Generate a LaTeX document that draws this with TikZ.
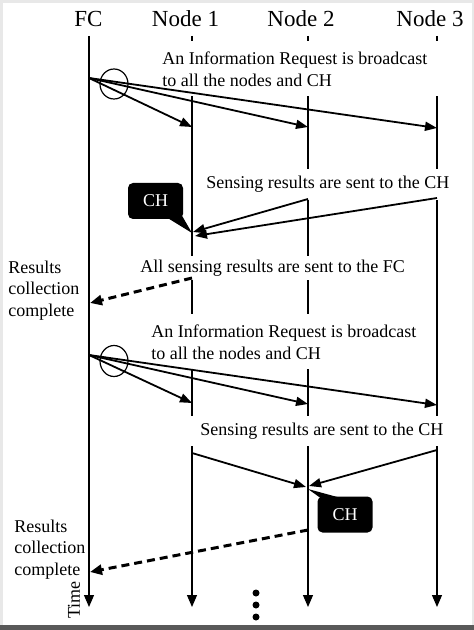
\documentclass[tikz,border=0pt]{standalone}
\usepackage{fontspec}
\setmainfont{Liberation Serif}
\usetikzlibrary{arrows.meta}

\tikzset{
  life/.style={line width=0.6pt,-{Triangle[length=6pt,width=5pt]}},
  msg/.style={line width=0.9pt,-{Triangle[length=6pt,width=4.5pt]}},
  reply/.style={line width=1.5pt,dash pattern=on 4pt off 2.5pt,-{Triangle[length=6pt,width=5pt]}},
  hdr/.style={font=\fontsize{11.5}{13}\selectfont,inner sep=0pt,anchor=base},
  note/.style={font=\fontsize{9}{11}\selectfont,fill=white,align=left,anchor=north west},
  done/.style={font=\fontsize{9}{10.75}\selectfont,align=left,anchor=north west,inner sep=0pt},
  chbox/.style={rectangle,fill=black,text=white,rounded corners=2.5pt,
    minimum width=27.5pt,minimum height=18pt,inner sep=0pt,
    font=\fontsize{9}{11}\selectfont}
}

\begin{document}
\begin{tikzpicture}[x=0.5pt,y=-0.5pt]

%FRAME
\fill[black!9] (0,0) rectangle (474,630);
\fill[white] (3,3) rectangle (472,625);
\fill[black!65] (0,625) rectangle (474,630);
\useasboundingbox (0,0) rectangle (474,630);

%HEADERS
\node[hdr] (fchead) at (88.5,27) {FC};
\node[hdr] (n1head) at (185.5,27) {Node 1};
\node[hdr] (n2head) at (301,27) {Node 2};
\node[hdr] (n3head) at (430,27) {Node 3};

%LIFELINES
\coordinate (fctop) at (89,36);
\coordinate (n1top) at (192,36);
\coordinate (n2top) at (308,36);
\coordinate (n3top) at (437,36);
\coordinate (fcend) at (89,607);
\coordinate (n1end) at (192,607);
\coordinate (n2end) at (308,607);
\coordinate (n3end) at (437,607);
\draw[life] (fctop) -- (fcend);
\draw[life] (n1top) -- (n1end);
\draw[life] (n2top) -- (n2end);
\draw[life] (n3top) -- (n3end);

%TEXTS
\node[note,inner xsep=6pt,inner ysep=5pt] (req1) at (150,41)
  {An Information Request is broadcast\\to all the nodes and CH};
\node[note,inner xsep=4pt,inner ysep=3.5pt] (sense1) at (198,169)
  {Sensing results are sent to the CH};
\node[note,inner xsep=2pt,inner ysep=2pt] (tofc1) at (136,255.5)
  {All sensing results are sent to the FC};
\node[note,inner xsep=3pt,inner ysep=5pt] (req2) at (145,314)
  {An Information Request is broadcast\\to all the nodes and CH};
\node[note,inner xsep=6pt,inner ysep=3.5pt] (sense2) at (188,415.5)
  {Sensing results are sent to the CH};
\node[done] (done1) at (8,260.5) {Results\\collection\\complete};
\node[done] (done2) at (14,519.5) {Results\\collection\\complete};
\node[font=\fontsize{9}{11}\selectfont,rotate=90,inner sep=0pt] (timelbl) at (74,600) {Time};

%FIRST ROUND
% broadcast
\coordinate (fcq1) at (89,78);
\coordinate (n1q1) at (192,127);
\coordinate (n2q1) at (308,127);
\coordinate (n3q1) at (437,128);
\draw[msg] (fcq1) -- (n1q1);
\draw[msg] (fcq1) -- (n2q1);
\draw[msg] (fcq1) -- (n3q1);
\draw[line width=0.6pt] (114,84) circle [x radius=7pt,y radius=7.5pt];
% results to CH
\coordinate (n2s1) at (308,199);
\coordinate (n3s1) at (437,198);
\coordinate (ch1a) at (193,232);
\coordinate (ch1b) at (195,236);
\draw[msg] (n2s1) -- (ch1a);
\draw[msg] (n3s1) -- (ch1b);
\node[chbox] (ch1) at (155.5,201) {CH};
\fill (166,217) -- (192,233) -- (181,214) -- cycle;
% results to FC
\coordinate (n1r1) at (192,278);
\coordinate (fcr1) at (90,303);
\draw[reply] (n1r1) -- (fcr1);

%SECOND ROUND
% broadcast
\coordinate (fcq2) at (89,355);
\coordinate (n1q2) at (192,403);
\coordinate (n2q2) at (308,404);
\coordinate (n3q2) at (437,405);
\draw[msg] (fcq2) -- (n1q2);
\draw[msg] (fcq2) -- (n2q2);
\draw[msg] (fcq2) -- (n3q2);
\draw[line width=0.6pt] (114,361) circle [x radius=7pt,y radius=7.75pt];
% results to CH
\coordinate (n1s2) at (192,453);
\coordinate (n3s2) at (437,450);
\coordinate (ch2a) at (306,487);
\coordinate (ch2b) at (309,486);
\draw[msg] (n1s2) -- (ch2a);
\draw[msg] (n3s2) -- (ch2b);
\node[chbox] (ch2) at (345,514.5) {CH};
\fill (322,499) -- (308,489) -- (341,498) -- cycle;
% results to FC
\coordinate (n2r2) at (308,530);
\coordinate (fcr2) at (90,572);
\draw[reply] (n2r2) -- (fcr2);

%MORE NODES
\fill (256,593) circle (1.75pt);
\fill (256,605) circle (1.75pt);
\fill (256,617) circle (1.75pt);

\end{tikzpicture}
\end{document}
